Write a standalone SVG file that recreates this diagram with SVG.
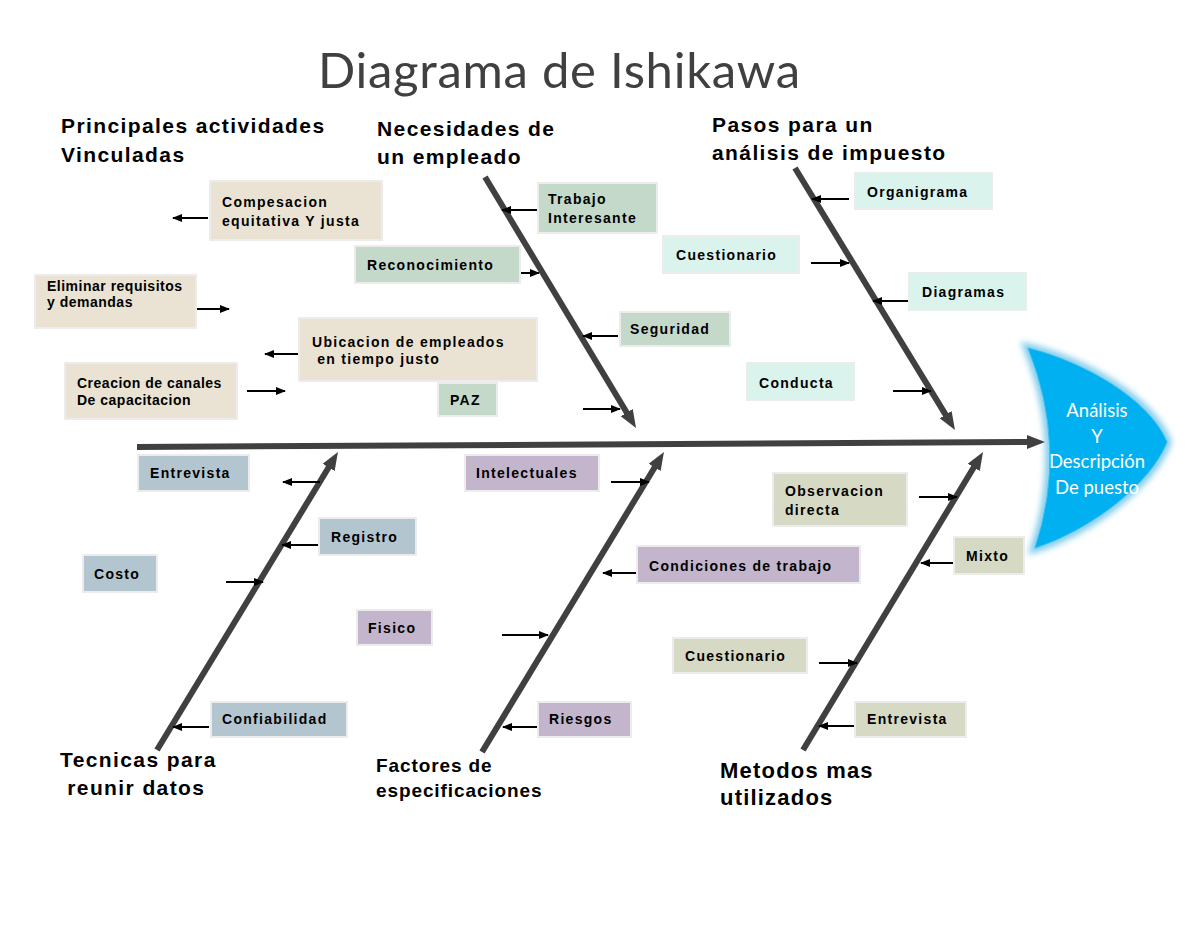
<svg xmlns="http://www.w3.org/2000/svg" width="1200" height="927" viewBox="0 0 1200 927">
<style>
.box{stroke:#ECECEC;stroke-width:2}
.beige{fill:#EAE3D3}
.green{fill:#C5D9CB}
.mint{fill:#DAF3EC}
.blue{fill:#B3C6D0}
.lav{fill:#C2B5CC}
.olive{fill:#D6DAC4}
.t{font-family:"Liberation Sans",Arial,sans-serif;font-weight:bold;font-size:14px;fill:#000;letter-spacing:1.3px}
.t0{letter-spacing:0.5px}
.cat{font-family:"Liberation Sans",Arial,sans-serif;font-weight:bold;font-size:21px;fill:#000;letter-spacing:1.4px}
.bone{stroke:#404040;stroke-width:6;fill:none;marker-end:url(#big)}
.arr{stroke:#000;stroke-width:2;fill:none;marker-end:url(#small)}
.head{font-family:Lato,"Open Sans",sans-serif;font-size:18.5px;fill:#fff;text-anchor:middle}
</style>
<defs>
<marker id="big" markerUnits="userSpaceOnUse" markerWidth="18" markerHeight="14" refX="4" refY="7" orient="auto">
<path d="M0,0 L18,7 L0,14 Z" fill="#404040"/>
</marker>
<marker id="small" markerUnits="userSpaceOnUse" markerWidth="10" markerHeight="8" refX="9" refY="4" orient="auto">
<path d="M0,0 L10,4 L0,8 Z" fill="#000"/>
</marker>
<filter id="glow" x="-20%" y="-20%" width="140%" height="140%">
<feGaussianBlur stdDeviation="3"/>
</filter>
</defs>
<rect width="1200" height="927" fill="#fff"/>
<text x="318" y="88" font-family="Lato,'Open Sans',sans-serif" font-size="49" fill="#404040" textLength="482" lengthAdjust="spacing">Diagrama de Ishikawa</text>

<g id="categories">
<text class="cat" x="61" y="133">Principales actividades</text>
<text class="cat" x="61" y="162">Vinculadas</text>
<text class="cat" x="377" y="136">Necesidades de</text>
<text class="cat" x="377" y="164">un empleado</text>
<text class="cat" x="712" y="132">Pasos para un</text>
<text class="cat" x="712" y="160">análisis de impuesto</text>
<text class="cat" x="60" y="767">Tecnicas para</text>
<text class="cat" x="60" y="795" xml:space="preserve"> reunir datos</text>
<text class="cat" x="376" y="772" style="font-size:19px;letter-spacing:0.9px">Factores de</text>
<text class="cat" x="376" y="797" style="font-size:19px;letter-spacing:0.9px">especificaciones</text>
<text class="cat" x="720" y="778" style="font-size:22px;letter-spacing:1.2px">Metodos mas</text>
<text class="cat" x="720" y="805" style="font-size:22px;letter-spacing:1.2px">utilizados</text>
</g>

<g id="head">
<path d="M1028,348 C1085,362 1150,400 1167,442 C1150,485 1090,530 1035,548 Q1068,448 1028,348 Z" fill="none" stroke="#7CCBEA" stroke-width="9" filter="url(#glow)"/>
<path d="M1028,348 C1085,362 1150,400 1167,442 C1150,485 1090,530 1035,548 Q1068,448 1028,348 Z" fill="#00B0F0" stroke="#3ABDEE" stroke-width="1"/>
<text class="head" x="1097" y="417">Análisis</text>
<text class="head" x="1097" y="443">Y</text>
<text class="head" x="1097" y="468">Descripción</text>
<text class="head" x="1097" y="494">De puesto</text>
</g>

<g id="connectors">
<line class="bone" x1="137" y1="447" x2="1031" y2="442"/>
<line class="bone" x1="485" y1="177" x2="628.8" y2="416"/>
<line class="bone" x1="795" y1="168" x2="947.7" y2="418.1"/>
<line class="bone" x1="157" y1="750" x2="330.7" y2="464"/>
<line class="bone" x1="482" y1="752" x2="656.7" y2="464"/>
<line class="bone" x1="803" y1="750" x2="975.8" y2="464"/>
<line class="arr" x1="208" y1="218" x2="173" y2="218"/>
<line class="arr" x1="196" y1="309" x2="229" y2="309"/>
<line class="arr" x1="247" y1="391" x2="285" y2="391"/>
<line class="arr" x1="298" y1="354" x2="265" y2="354"/>
<line class="arr" x1="537" y1="210" x2="502" y2="210"/>
<line class="arr" x1="502" y1="273" x2="539" y2="273"/>
<line class="arr" x1="618" y1="336" x2="583" y2="336"/>
<line class="arr" x1="583" y1="409" x2="620" y2="409"/>
<line class="arr" x1="849" y1="199" x2="812" y2="199"/>
<line class="arr" x1="811" y1="263" x2="849" y2="263"/>
<line class="arr" x1="908" y1="301" x2="873" y2="301"/>
<line class="arr" x1="893" y1="391" x2="931" y2="391"/>
<line class="arr" x1="320" y1="482" x2="283" y2="482"/>
<line class="arr" x1="318" y1="545" x2="282" y2="545"/>
<line class="arr" x1="226" y1="582" x2="263" y2="582"/>
<line class="arr" x1="209" y1="727" x2="173" y2="727"/>
<line class="arr" x1="611" y1="482" x2="649" y2="482"/>
<line class="arr" x1="636" y1="573" x2="603" y2="573"/>
<line class="arr" x1="502" y1="635" x2="548" y2="635"/>
<line class="arr" x1="537" y1="727" x2="503" y2="727"/>
<line class="arr" x1="919" y1="497" x2="957" y2="497"/>
<line class="arr" x1="953" y1="563" x2="921" y2="563"/>
<line class="arr" x1="819" y1="663" x2="857" y2="663"/>
<line class="arr" x1="854" y1="726" x2="819" y2="726"/>
</g>

<g id="n-compesacion"><rect class="box beige" x="210" y="181" width="172" height="59"/><text class="t" x="222" y="207">Compesacion</text><text class="t" x="222" y="226">equitativa Y justa</text></g>
<g id="n-eliminar"><rect class="box beige" x="35" y="275" width="161" height="53"/><text class="t t0" x="47" y="291">Eliminar requisitos</text><text class="t t0" x="47" y="307">y demandas</text></g>
<g id="n-creacion"><rect class="box beige" x="65" y="363" width="172" height="56"/><text class="t t0" x="77" y="388">Creacion de canales</text><text class="t t0" x="77" y="405">De capacitacion</text></g>
<g id="n-ubicacion"><rect class="box beige" x="299" y="318" width="238" height="63"/><text class="t" x="312" y="347">Ubicacion de empleados</text><text class="t" x="312" y="364" xml:space="preserve"> en tiempo justo</text></g>
<g id="n-trabajo"><rect class="box green" x="538" y="183" width="119" height="50"/><text class="t" x="548" y="204">Trabajo</text><text class="t" x="548" y="223">Interesante</text></g>
<g id="n-reconocimiento"><rect class="box green" x="355" y="246" width="165" height="37"/><text class="t" x="367" y="270">Reconocimiento</text></g>
<g id="n-seguridad"><rect class="box green" x="620" y="312" width="110" height="34"/><text class="t" x="630" y="334">Seguridad</text></g>
<g id="n-paz"><rect class="box green" x="438" y="383" width="59" height="33"/><text class="t" x="450" y="405">PAZ</text></g>
<g id="n-organigrama"><rect class="box mint" x="855" y="173" width="137" height="36"/><text class="t" x="867" y="197">Organigrama</text></g>
<g id="n-cuestionario1"><rect class="box mint" x="663" y="236" width="136" height="37"/><text class="t" x="676" y="260">Cuestionario</text></g>
<g id="n-diagramas"><rect class="box mint" x="909" y="273" width="117" height="37"/><text class="t" x="922" y="297">Diagramas</text></g>
<g id="n-conducta"><rect class="box mint" x="747" y="363" width="107" height="37"/><text class="t" x="759" y="388">Conducta</text></g>
<g id="n-entrevista1"><rect class="box blue" x="138" y="455" width="111" height="36"/><text class="t" x="150" y="478">Entrevista</text></g>
<g id="n-registro"><rect class="box blue" x="319" y="518" width="97" height="37"/><text class="t" x="331" y="542">Registro</text></g>
<g id="n-costo"><rect class="box blue" x="83" y="555" width="74" height="37"/><text class="t" x="94" y="579">Costo</text></g>
<g id="n-confiabilidad"><rect class="box blue" x="211" y="702" width="136" height="35"/><text class="t" x="222" y="724">Confiabilidad</text></g>
<g id="n-intelectuales"><rect class="box lav" x="465" y="455" width="134" height="36"/><text class="t" x="476" y="478">Intelectuales</text></g>
<g id="n-condiciones"><rect class="box lav" x="637" y="546" width="223" height="37"/><text class="t" x="649" y="571">Condiciones de trabajo</text></g>
<g id="n-fisico"><rect class="box lav" x="357" y="610" width="75" height="35"/><text class="t" x="368" y="633">Fisico</text></g>
<g id="n-riesgos"><rect class="box lav" x="538" y="702" width="93" height="35"/><text class="t" x="549" y="724">Riesgos</text></g>
<g id="n-observacion"><rect class="box olive" x="773" y="473" width="134" height="53"/><text class="t" x="785" y="496">Observacion</text><text class="t" x="785" y="515">directa</text></g>
<g id="n-mixto"><rect class="box olive" x="954" y="537" width="70" height="37"/><text class="t" x="966" y="561">Mixto</text></g>
<g id="n-cuestionario2"><rect class="box olive" x="673" y="638" width="134" height="35"/><text class="t" x="685" y="661">Cuestionario</text></g>
<g id="n-entrevista2"><rect class="box olive" x="855" y="702" width="111" height="35"/><text class="t" x="867" y="724">Entrevista</text></g>
</svg>
